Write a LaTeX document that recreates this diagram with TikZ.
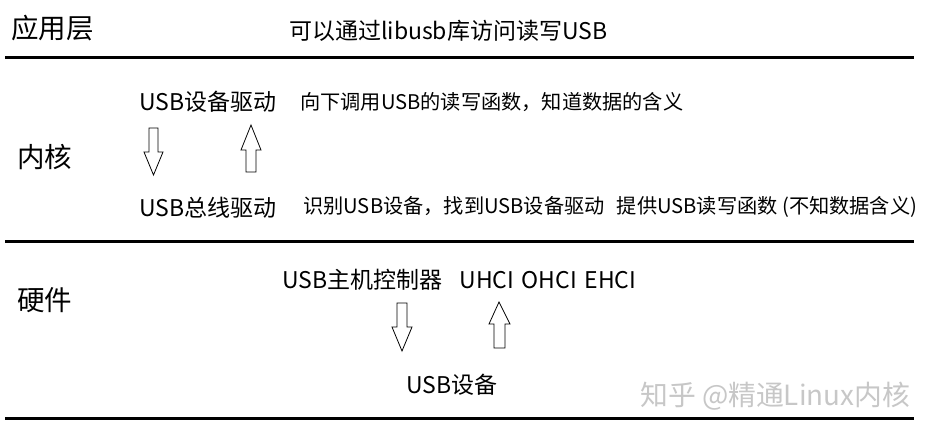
\documentclass[tikz,border=0pt]{standalone}
\usepackage{fontspec}
\setmainfont{Noto Sans CJK SC}
\begin{document}
\begin{tikzpicture}[x=1pt,y=-1pt,
  lbl/.style={anchor=west,inner sep=0pt,font=\fontsize{27.5}{30}\selectfont},
  txt/.style={anchor=west,inner sep=0pt,font=\fontsize{23}{26}\selectfont},
  sml/.style={anchor=west,inner sep=0pt,font=\fontsize{20.2}{23}\selectfont},
  rule/.style={line width=3pt},
  hollow/.style={draw=black,line width=0.8pt,fill=white,line join=miter}]
\useasboundingbox[fill=white] (0,0) rectangle (934,434);
% rules
\coordinate (r1a) at (5,57); \coordinate (r1b) at (914,57);
\coordinate (r2a) at (5,241); \coordinate (r2b) at (914,241);
\coordinate (r3a) at (5,418); \coordinate (r3b) at (914,418);
\draw[rule] (r1a) -- (r1b);
\draw[rule] (r2a) -- (r2b);
\draw[rule] (r3a) -- (r3b);
% layer labels
\node[lbl] (app) at (11,28) {应用层};
\node[lbl] (kern) at (17,157) {内核};
\node[lbl] (hw) at (17,300) {硬件};
% texts
\node[txt] (libusb) at (289,31) {可以通过libusb库访问读写USB};
\node[txt] (devdrv) at (139,102) {USB设备驱动};
\node[sml] (devdesc) at (300,102) {向下调用USB的读写函数，知道数据的含义};
\node[txt] (busdrv) at (139,208) {USB总线驱动};
\node[sml] (busdesc) at (303,207) {识别USB设备，找到USB设备驱动\hspace{0.6em}提供USB读写函数 (不知数据含义)};
\node[txt] (hc) at (282,280) {USB主机控制器\hspace{0.75em}UHCI\hspace{0.1em} OHCI\hspace{0.1em} EHCI};
\node[txt] (dev) at (406,385) {USB设备};
% arrows kernel
\draw[hollow] (149,128) -- (158,128) -- (158,152) -- (163,152) -- (153.5,175) -- (144,152) -- (149,152) -- cycle;
\draw[hollow] (246,172) -- (256,172) -- (256,150) -- (261,150) -- (251,125) -- (241,150) -- (246,150) -- cycle;
% arrows hardware
\draw[hollow] (397,303) -- (407,303) -- (407,327) -- (412,327) -- (402,351) -- (392,327) -- (397,327) -- cycle;
\draw[hollow] (494,348) -- (505,348) -- (505,324) -- (510,324) -- (499,302) -- (489,324) -- (494,324) -- cycle;
% watermark
\node[anchor=west,inner sep=0pt,text=black!22,font=\fontsize{27.8}{30}\selectfont] (wm) at (640,396) {知乎 @精通Linux内核};
\end{tikzpicture}
\end{document}
